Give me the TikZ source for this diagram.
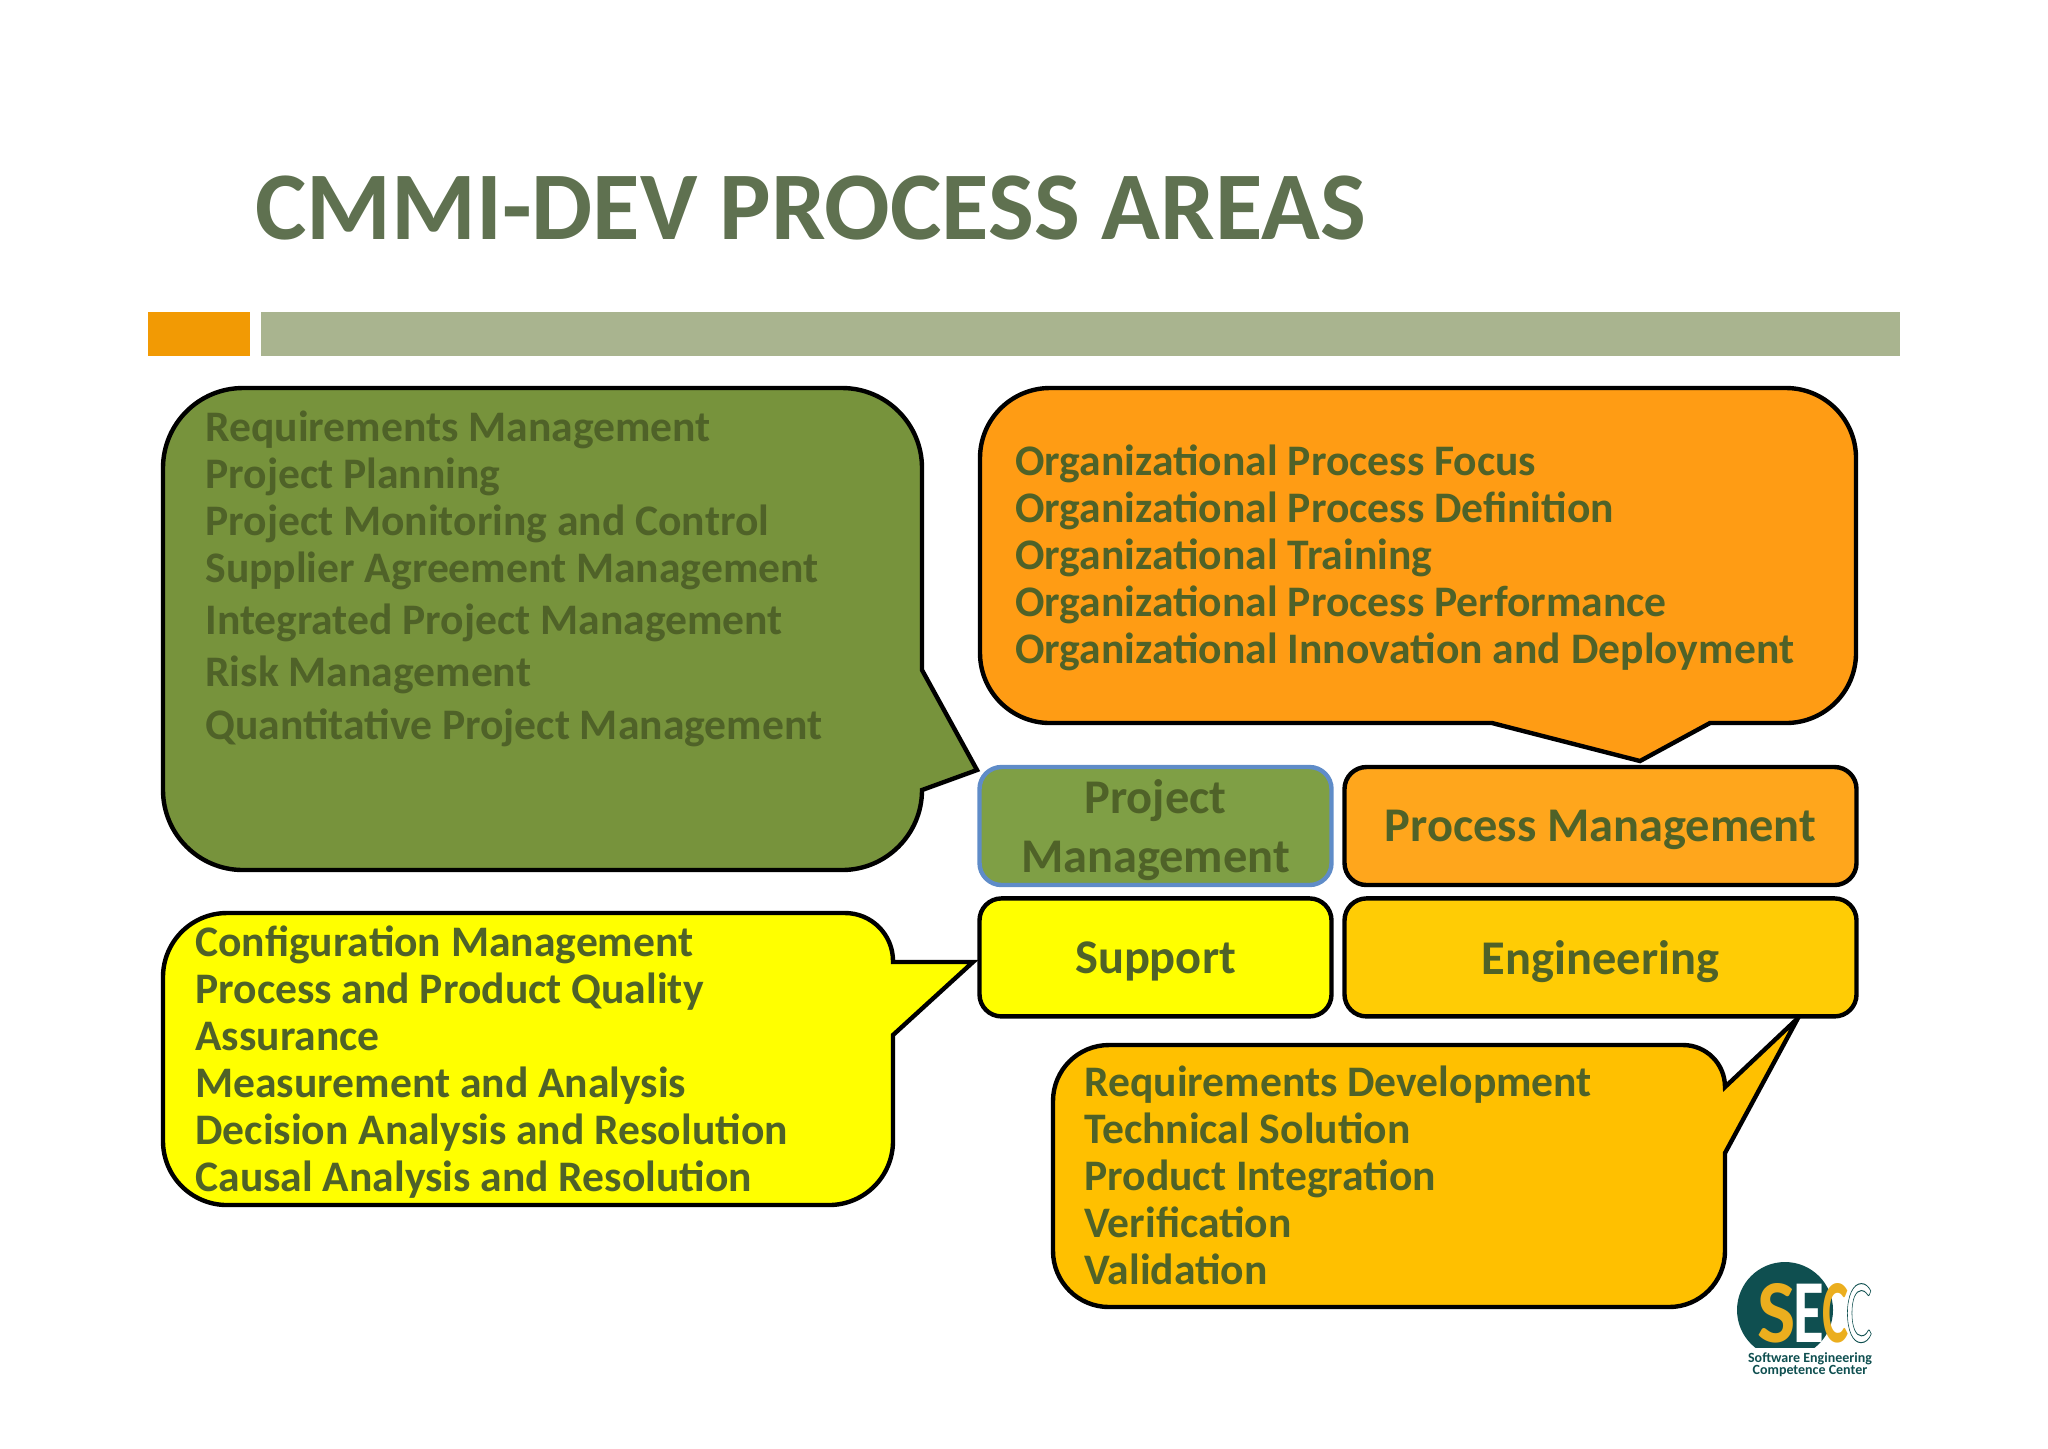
\documentclass[tikz,border=0pt]{standalone}
\usepackage{fontspec}
\usepackage{tikz}
\setmainfont{Carlito}
\definecolor{titlegreen}{HTML}{5F7150}
\definecolor{textgreen}{HTML}{4F6228}
\definecolor{bargreen}{HTML}{A9B48F}
\definecolor{barorange}{HTML}{F29A04}
\definecolor{pmgreen}{HTML}{77933C}
\definecolor{pmbox}{HTML}{7F9F45}
\definecolor{pmblue}{HTML}{5F8CC8}
\definecolor{procorange}{HTML}{FF9C14}
\definecolor{procbox}{HTML}{FFA61C}
\definecolor{engbox}{HTML}{FFCC05}
\definecolor{engcall}{HTML}{FFC000}
\definecolor{supyellow}{HTML}{FFFF00}
\definecolor{logoteal}{HTML}{0F4F50}
\definecolor{logogold}{HTML}{EBAE1E}
\tikzstyle{areabox} = [rectangle, rounded corners=11pt, minimum height=59pt, text centered, text depth=0pt, draw=black, line width=2.2pt, text=textgreen, font=\fontsize{24.2}{29.4}\selectfont\bfseries]
\tikzstyle{callout} = [draw=black, line width=2.2pt, line join=miter]
\tikzstyle{arealist} = [anchor=base west, inner sep=0pt, align=left, text=textgreen, font=\fontsize{21.8}{23.5}\selectfont\bfseries]
\tikzstyle{logotext} = [anchor=base, inner sep=0pt, font=\fontsize{45}{45}\selectfont\bfseries]
\begin{document}
\begin{tikzpicture}[x=0.5pt, y=-0.5pt]
	\useasboundingbox (0,0) rectangle (2048,1448);
	\node (title) [anchor=base west, inner sep=0pt, text=titlegreen, font=\fontsize{48.5}{50}\selectfont\bfseries] at (255,239) {CMMI-DEV PROCESS AREAS};
	\fill [barorange] (148,312) rectangle (250,356);
	\fill [bargreen] (261,312) rectangle (1900,356);

	% callouts
	\draw [callout, fill=pmgreen] (922,670) -- (977,770) -- (922,790) [rounded corners=40pt] -- (922,870) -- (163,870) -- (163,388) -- (922,388) [sharp corners] -- cycle;
	\draw [callout, fill=procorange] (1492,723) -- (1640,761) -- (1710,723) [rounded corners=35pt] -- (1856,723) -- (1856,388) -- (980,388) -- (980,723) [sharp corners] -- cycle;
	\draw [callout, fill=supyellow] (893,962) -- (973,962) -- (893,1035) [rounded corners=32pt] -- (893,1205) -- (163,1205) -- (163,913) [sharp corners] -- (845,913) arc [start angle=-90, end angle=0, radius=48] -- cycle;
	\draw [callout, fill=engcall] (1725,1087) -- (1798,1018) -- (1725,1153) [rounded corners=28pt] -- (1725,1307) -- (1053,1307) -- (1053,1045) [sharp corners] -- (1683,1045) arc [start angle=-90, end angle=0, radius=42] -- cycle;

	\node (pmlist) [arealist] at (205,739) {Requirements Management\\Project Planning\\Project Monitoring and Control\\Supplier Agreement Management\\[2.6pt]Integrated Project Management\\[2.6pt]Risk Management\\[2.6pt]Quantitative Project Management};
	\node (proclist) [arealist] at (1015,663) {Organizational Process Focus\\Organizational Process Definition\\Organizational Training\\Organizational Process Performance\\Organizational Innovation and Deployment};
	\node (suplist) [arealist] at (195,1191) {Configuration Management\\Process and Product Quality\\Assurance\\Measurement and Analysis\\Decision Analysis and Resolution\\Causal Analysis and Resolution};
	\node (englist) [arealist] at (1084,1284) {Requirements Development\\Technical Solution\\Product Integration\\Verification\\Validation};

	% category boxes
	\node (project) [areabox, minimum width=176pt, align=center, fill=pmbox, draw=pmblue] at (1155.5,826) {Project\\Management};
	\node (process) [areabox, minimum width=256pt, fill=procbox, right of=project, node distance=222.5pt] {Process Management};
	\node (support) [areabox, minimum width=176pt, fill=supyellow, below of=project, node distance=65.7pt] {Support};
	\node (engineering) [areabox, minimum width=256pt, fill=engbox, below of=process, node distance=65.7pt] {Engineering};

	% logo
	\begin{scope}
		\clip (1730,1255) rectangle (1840,1347);
		\fill [logoteal] (1785,1310) circle (48);
	\end{scope}
	\node (logos) [logotext, text=logogold, xscale=0.9] at (1777,1342) {S};
	\node (logoe) [logotext, text=white, xscale=0.7] at (1809,1342) {E};
	\node (logoc) [logotext, text=logogold, xscale=0.55] at (1836,1342) {C};
	\node (logocc) [logotext, text=white, xscale=0.55, font=\fontsize{45}{45}\selectfont] at (1859,1342) {\special{pdf:code 1 Tr 0.5 w 0.06 0.31 0.31 RG}C\special{pdf:code 0 Tr}};
	\node (logoname) [anchor=base, inner sep=0pt, align=center, text=logoteal, font=\fontsize{7}{6}\selectfont\bfseries] at (1810,1374) {Software Engineering\\Competence Center};
\end{tikzpicture}
\end{document}
